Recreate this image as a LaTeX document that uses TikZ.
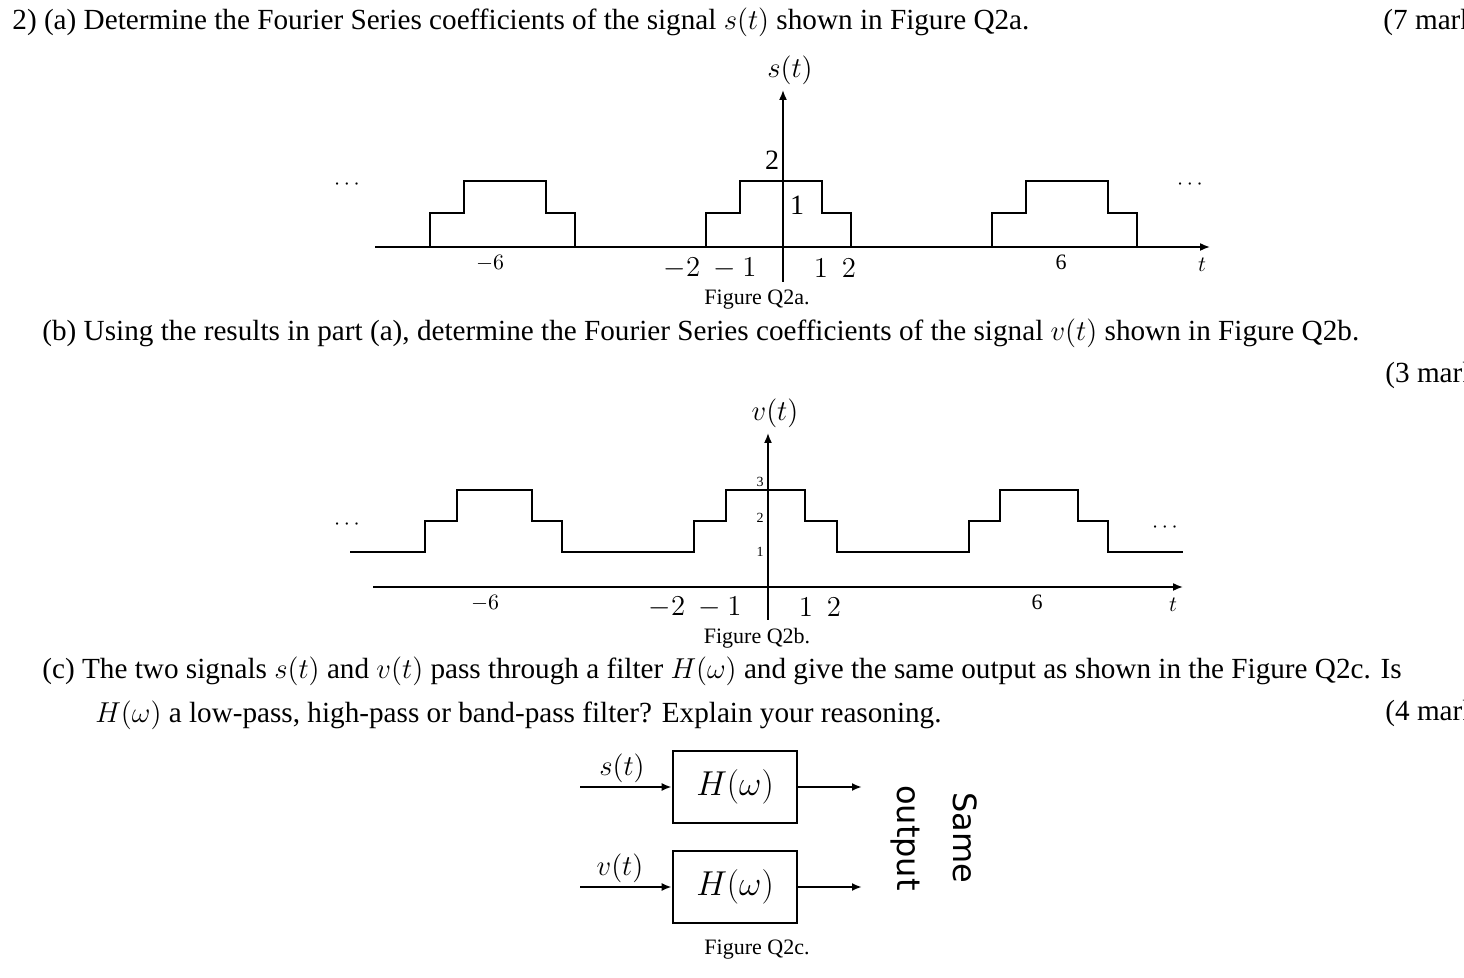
\documentclass[tikz,border=0pt]{standalone}
\usepackage{fontspec}
\setmainfont{Liberation Serif}
\newfontfamily\sansf{DejaVu Sans}
\usetikzlibrary{arrows.meta}
\begin{document}
\begin{tikzpicture}[x=0.5pt,y=-0.5pt,
  txt/.style={inner sep=0pt,font=\fontsize{14.6}{16}\selectfont},
  lab/.style={inner sep=0pt,font=\fontsize{15}{17}\selectfont},
  small/.style={inner sep=0pt,font=\fontsize{11}{13}\selectfont},
  num/.style={inner sep=0pt,font=\fontsize{14}{16}\selectfont},
  tiny/.style={inner sep=0pt,font=\fontsize{7}{8}\selectfont},
  sig/.style={line width=1pt},
  ax/.style={line width=0.8pt,-{Latex[length=5pt,width=4pt]}},
  box/.style={draw,line width=1.3pt,minimum width=62pt,minimum height=36pt,font=\fontsize{16}{18}\selectfont}]
\path[use as bounding box,clip] (0,0) rectangle (1464,978);
% texts
\node[txt,anchor=west] (l1) at (12,22) {2) (a) Determine the Fourier Series coefficients of the signal $s(t)$ shown in Figure Q2a.};
\node[txt,anchor=west] (m1) at (1383,22) {(7 marks)};
\node[txt,anchor=west] (l2) at (42,333) {(b) Using the results in part (a), determine the Fourier Series coefficients of the signal $v(t)$ shown in Figure Q2b.};
\node[txt,anchor=west] (m2) at (1385,375) {(3 marks)};
\node[txt,anchor=west] (l3) at (42,671) {(c) The two signals $s(t)$ and $v(t)$ pass through a filter $H(\omega)$ and give the same output as shown in the Figure Q2c. Is};
\node[txt,anchor=west] (l4) at (95,715) {$H(\omega)$ a low-pass, high-pass or band-pass filter? Explain your reasoning.};
\node[txt,anchor=west] (m3) at (1385,713) {(4 marks)};
% Figure Q2a
\coordinate (a0) at (375,247); \coordinate (a1) at (1210,247);
\draw[ax] (a0) -- (a1);
\coordinate (b0) at (783,282); \coordinate (b1) at (783,90);
\draw[ax] (b0) -- (b1);
\foreach \c in {0,-276,286}{
 \draw[sig] ({706+\c},247) -- ({706+\c},213) -- ({740+\c},213) -- ({740+\c},181) -- ({822+\c},181) -- ({822+\c},213) -- ({851+\c},213) -- ({851+\c},247);}
\node[lab] (sa) at (790,70) {$s(t)$};
\node[num] (a2) at (772,160) {2};
\node[num] (a1l) at (797,205) {1};
\node[small] (am6) at (490,263) {$-6$};
\node[num] (am2) at (710,268) {$-2\ -1$};
\node[num] (ap2) at (835,268) {$1\ \ 2$};
\node[small] (ap6) at (1061,262) {6};
\node[small] (at) at (1202,265) {$t$};
\node[small] (ad1) at (347,185) {$\cdots$};
\node[small] (ad2) at (1190,185) {$\cdots$};
\node[small] (fa) at (757,300) {Figure Q2a.};
% Figure Q2b
\coordinate (c0) at (373,587); \coordinate (c1) at (1183,587);
\draw[ax] (c0) -- (c1);
\coordinate (d0) at (768,620); \coordinate (d1) at (768,433);
\draw[ax] (d0) -- (d1);
\draw[sig] (350,552) -- (425,552) -- (425,521) -- (457,521) -- (457,490) -- (532,490) -- (532,521) -- (562,521) -- (562,552)
 -- (694,552) -- (694,521) -- (726,521) -- (726,490) -- (805,490) -- (805,521) -- (837,521) -- (837,552)
 -- (969,552) -- (969,521) -- (1000,521) -- (1000,490) -- (1078,490) -- (1078,521) -- (1108,521) -- (1108,552) -- (1183,552);
\node[lab] (va) at (775,413) {$v(t)$};
\node[tiny] (v3) at (760,482) {3};
\node[tiny] (v2) at (760,518) {2};
\node[tiny] (v1) at (760,552) {1};
\node[small] (bm6) at (485,603) {$-6$};
\node[num] (bm2) at (695,607) {$-2\ -1$};
\node[num] (bp2) at (820,607) {$1\ \ 2$};
\node[small] (bp6) at (1037,602) {6};
\node[small] (bt) at (1173,605) {$t$};
\node[small] (bd1) at (347,525) {$\cdots$};
\node[small] (bd2) at (1165,528) {$\cdots$};
\node[small] (fb) at (757,638) {Figure Q2b.};
% Figure Q2c
\node[box] (h1) at (735,787) {$H(\omega)$};
\node[box] (h2) at (735,887) {$H(\omega)$};
\coordinate (i1) at (580,787); \coordinate (i2) at (580,887);
\coordinate (o1) at (862,787); \coordinate (o2) at (862,887);
\draw[ax,line width=1.2pt] (i1) -- (h1.west);
\draw[ax,line width=1.2pt] (i2) -- (h2.west);
\draw[ax,line width=1.2pt] (h1.east) -- (o1);
\draw[ax,line width=1.2pt] (h2.east) -- (o2);
\node[lab] (sl) at (622,768) {$s(t)$};
\node[lab] (vl) at (620,868) {$v(t)$};
\node[inner sep=0pt,rotate=-90,font=\sansf\fontsize{16}{18}\selectfont] (out) at (905,838) {output};
\node[inner sep=0pt,rotate=-90,font=\sansf\fontsize{16}{18}\selectfont] (same) at (965,838) {Same};
\node[small] (fc) at (757,950) {Figure Q2c.};
\end{tikzpicture}
\end{document}
